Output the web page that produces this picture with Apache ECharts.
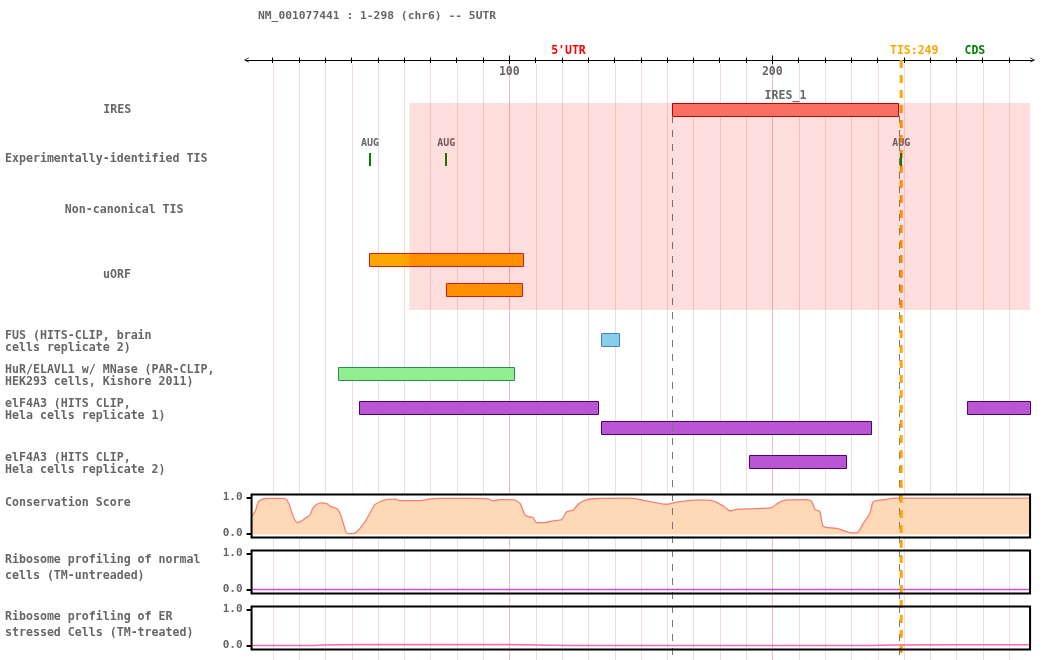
<!DOCTYPE html>
<html><head><meta charset="utf-8">
<script src="https://cdn.jsdelivr.net/npm/echarts@6/dist/echarts.min.js"></script>
<style>html,body{margin:0;padding:0;background:#fff}#c{width:1050px;height:660px}</style>
</head><body><div id="c"></div>
<script>
// ---------------- DATA ----------------
const titleText = 'NM_001077441 : 1-298 (chr6) -- 5UTR';
const minorTicks = [10,20,30,40,50,60,70,80,90,100,110,120,130,140,150,160,170,180,190,200,210,220,230,240,250,260,270,280,290];
const majorTicks = [100, 200];
const panelTicks = [0, 1];
const iresRegion = [62, 298];
const iresElements = [[162, 248]];
const iresNames = ['IRES_1'];
const augSites = [47, 76, 249];
const augText = 'AUG';
const tisSite = 249;
const headerTexts = ["5'UTR", 'TIS:' + tisSite, 'CDS'];
const uorfs = [[46.5, 105], [76, 105]];
const fusPeaks = [[135, 142]];
const hurPeaks = [[35, 102]];
const eif4a3Rep1 = [[43, 134], [135, 237.5], [274, 298]];
const eif4a3Rep2 = [[191, 228]];
const conservation = [[2,0.48],[3.3,0.6],[4.6,0.88],[5.8,0.94],[7.7,0.97],[14,0.97],[15.4,0.93],[16.6,0.74],[17.9,0.46],[19.4,0.3],[21.1,0.35],[22.3,0.42],[24.2,0.51],[25.2,0.69],[26.8,0.81],[28.7,0.85],[30.6,0.83],[31.8,0.76],[34.4,0.69],[35.6,0.56],[36.9,0.28],[38.4,0.0],[40.7,0.0],[42.6,0.09],[45.1,0.32],[47,0.56],[48.9,0.8],[50.8,0.88],[53.4,0.94],[56.5,0.95],[58.4,0.91],[66,0.91],[68.6,0.94],[73.6,0.97],[86.3,0.97],[92,0.96],[93.9,0.91],[96.5,0.94],[101.5,0.94],[104.1,0.83],[106,0.51],[107.9,0.46],[109.1,0.44],[110.4,0.3],[112.9,0.3],[116.7,0.35],[119.9,0.39],[121.8,0.6],[124.3,0.65],[126.2,0.81],[129.4,0.94],[134.5,0.97],[146,0.98],[153.5,0.88],[159.8,0.81],[163.6,0.87],[172.5,0.93],[177.6,0.9],[181.4,0.76],[183.9,0.63],[186.5,0.67],[194.1,0.69],[199.8,0.72],[202.3,0.85],[205.5,0.93],[213.1,0.94],[215,0.88],[216.2,0.67],[218.1,0.6],[219.4,0.2],[224.5,0.14],[230.2,0.02],[232.1,0.02],[234.6,0.28],[237.1,0.56],[238.4,0.88],[242.2,0.93],[247.3,0.98],[249.8,0.98],[298,0.98]];
const riboNormal = [[2,0],[298,0]];
const riboTreated = [[2,0],[20,0],[33,0.02],[60,0.03],[100,0.03],[115,0.01],[140,0],[235,0],[245,0.015],[298,0.02]];
const trackLabels = [
  ['IRES'],
  ['Experimentally-identified TIS'],
  ['Non-canonical TIS'],
  ['uORF'],
  ['FUS (HITS-CLIP, brain', 'cells replicate 2)'],
  ['HuR/ELAVL1 w/ MNase (PAR-CLIP,', 'HEK293 cells, Kishore 2011)'],
  ['elF4A3 (HITS CLIP,', 'Hela cells replicate 1)'],
  ['elF4A3 (HITS CLIP,', 'Hela cells replicate 2)'],
  ['Conservation Score'],
  ['Ribosome profiling of normal', 'cells (TM-untreaded)'],
  ['Ribosome profiling of ER', 'stressed Cells (TM-treated)']
];

// ---------------- LAYOUT / STYLE ----------------
const FONT = '"DejaVu Sans Mono", "Liberation Mono", monospace';
const fnt = (s, w) => (w || 'bold') + ' ' + s + 'px ' + FONT;
const GRAY = '#666';
const AX = {left: 246.3, width: 786.4, top: 60, min: 0, max: 299};
const PANEL = {min: 2, max: 298, ymin: -0.11, ymax: 1.08, h: 43, tops: [494.5, 550.5, 606.5]};
const BAR_H = 13;
const L = {
  iresY: 103, iresLabelY: 95.5, augLabelY: 143.5, augTickY: 153, augTickH: 13,
  uorfY: 253, uorfStep: 30, fusY: 333, hurY: 367, rep1Y: 401, rep1Step: 20, rep2Y: 455,
  overlayTop: 103, overlayBottom: 310, guideTop: 116, gridLineTop: 64, bottom: 660,
  headerY: 51.5
};
const labelLayout = [
  [117.2, 109.8, 0, 'center'], [5, 158.8, 0, 'left'], [124.2, 209.8, 0, 'center'], [117, 274.5, 0, 'center'],
  [5, 335.5, 12.3, 'left'], [5, 369.5, 12, 'left'], [5, 403.8, 11.8, 'left'], [5, 457.8, 12, 'left'],
  [5, 502.8, 0, 'left'], [5, 559.8, 15.8, 'left'], [5, 616.5, 16.3, 'left']
];
const headerPos = [122.5, null, 277];
const headerColors = ['#ff0000', '#ffa500', '#008000'];

function pack(intervals, gap) {
  const sorted = intervals.slice().sort((a, b) => a[0] - b[0]);
  const ends = [];
  return sorted.map(iv => {
    let lane = ends.findIndex(e => iv[0] - e >= gap);
    if (lane < 0) { lane = ends.length; ends.push(iv[1]); } else ends[lane] = iv[1];
    return [iv[0], iv[1], lane];
  });
}

function barSeries(name, data, y0, step, fill, stroke) {
  return {
    type: 'custom', name, xAxisIndex: 0, yAxisIndex: 0, z: 3, data: pack(data, 2),
    encode: {x: [0, 1]}, silent: true,
    renderItem(params, api) {
      const s = api.coord([api.value(0), 0]), e = api.coord([api.value(1), 0]);
      const y = y0 + api.value(2) * step;
      return {type: 'rect', shape: {x: Math.round(s[0]) + 0.5, y: y + 0.5, width: Math.round(e[0] - s[0]), height: BAR_H},
        style: {fill, stroke, lineWidth: 1}};
    }
  };
}

const chart = echarts.init(document.getElementById('c'), null, {renderer: 'canvas'});

const arrowPath = 'path://M0,10 L5,0 L10,10 L8.4,10 L5,3.2 L1.6,10 Z';
const baseTop = {gridIndex: 0, type: 'value', position: 'top', min: AX.min, max: AX.max, splitLine: {show: false}};
const xAxes = [
  Object.assign({}, baseTop, {
    axisLine: {show: true, onZero: false, lineStyle: {color: '#000', width: 1}, symbol: [arrowPath, arrowPath], symbolSize: [7, 5]},
    axisTick: {show: true, customValues: minorTicks, length: 2.5, lineStyle: {color: '#000'}},
    axisLabel: {show: true, customValues: majorTicks, inside: true, margin: 6, color: GRAY, fontWeight: 'bold', fontSize: 11.5, fontFamily: FONT}}),
  Object.assign({}, baseTop, {axisLine: {show: false, onZero: false}, axisLabel: {show: false},
    axisTick: {show: true, inside: true, customValues: minorTicks, length: 3, lineStyle: {color: '#000'}}}),
  Object.assign({}, baseTop, {axisLine: {show: false, onZero: false}, axisLabel: {show: false},
    axisTick: {show: true, customValues: majorTicks, length: 4.5, lineStyle: {color: '#000'}}}),
  Object.assign({}, baseTop, {axisLine: {show: false, onZero: false}, axisLabel: {show: false},
    axisTick: {show: true, inside: true, customValues: majorTicks, length: 4, lineStyle: {color: '#000'}}})
];
const yAxes = [{gridIndex: 0, type: 'value', min: 0, max: 1, show: false}];
const grids = [{left: AX.left, width: AX.width, top: AX.top, height: L.bottom - AX.top, z: 0}];
PANEL.tops.forEach((top, i) => {
  grids.push({left: AX.left + (PANEL.min - AX.min) * AX.width / (AX.max - AX.min),
    width: (PANEL.max - PANEL.min) * AX.width / (AX.max - AX.min), top, height: PANEL.h,
    show: true, borderWidth: 0, backgroundColor: i === 0 ? '#fff' : 'transparent', z: 1});
  xAxes.push({gridIndex: i + 1, type: 'value', min: PANEL.min, max: PANEL.max, show: false});
  yAxes.push({gridIndex: i + 1, type: 'value', min: PANEL.ymin, max: PANEL.ymax,
    axisLine: {show: false, onZero: false}, splitLine: {show: false},
    axisTick: {show: true, customValues: panelTicks, length: 5, lineStyle: {color: '#000', width: 2}},
    axisLabel: {show: true, customValues: panelTicks, formatter: v => v.toFixed(1), margin: 9,
      color: GRAY, fontWeight: 'bold', fontSize: 11, fontFamily: FONT}});
});

const series = [
  {type: 'custom', xAxisIndex: 0, yAxisIndex: 0, z: 0, silent: true, data: minorTicks.map(v => [v]),
    encode: {x: 0},
    renderItem(params, api) {
      const x = Math.round(api.coord([api.value(0), 0])[0]) + 0.5;
      const major = majorTicks.indexOf(api.value(0)) >= 0;
      return {type: 'line', shape: {x1: x, y1: L.gridLineTop, x2: x, y2: L.bottom},
        style: {stroke: major ? '#f1b9be' : '#f3dadd', lineWidth: 1}};
    }},
  {type: 'custom', xAxisIndex: 0, yAxisIndex: 0, z: 3, silent: true, data: iresElements.map((d, i) => [d[0], d[1], i]),
    encode: {x: [0, 1]},
    renderItem(params, api) {
      const s = api.coord([api.value(0), 0]), e = api.coord([api.value(1), 0]);
      return {type: 'group', children: [
        {type: 'rect', shape: {x: Math.round(s[0]) + 0.5, y: L.iresY + 0.5, width: Math.round(e[0] - s[0]), height: BAR_H},
          style: {fill: '#fa8072', stroke: '#b00000', lineWidth: 1}},
        {type: 'text', style: {text: iresNames[api.value(2)], x: (s[0] + e[0]) / 2, y: L.iresLabelY,
          align: 'center', verticalAlign: 'middle', textAlign: 'center', textVerticalAlign: 'middle', font: fnt(11.6), fill: GRAY}}
      ]};
    }},
  barSeries('uORF', uorfs, L.uorfY, L.uorfStep, '#ffa500', '#cc2222'),
  barSeries('FUS', fusPeaks, L.fusY, 20, '#87ceeb', '#4682b4'),
  barSeries('HuR', hurPeaks, L.hurY, 20, '#90ee90', '#2e8b57'),
  barSeries('eIF4A3 rep1', eif4a3Rep1, L.rep1Y, L.rep1Step, '#ba55d3', '#4b0082'),
  barSeries('eIF4A3 rep2', eif4a3Rep2, L.rep2Y, 20, '#ba55d3', '#4b0082'),
  {type: 'custom', xAxisIndex: 0, yAxisIndex: 0, z: 4, silent: true,
    data: iresElements.reduce((a, d) => a.concat([[d[0]], [d[1]]]), []), encode: {x: 0},
    renderItem(params, api) {
      const x = Math.round(api.coord([api.value(0), 0])[0]) + 0.5;
      return {type: 'line', shape: {x1: x, y1: L.guideTop, x2: x, y2: L.bottom},
        style: {stroke: '#777', lineWidth: 1, lineDash: [7, 7]}};
    }},
  {type: 'custom', xAxisIndex: 0, yAxisIndex: 0, z: 5, silent: true, data: [[tisSite]], encode: {x: 0},
    renderItem(params, api) {
      const x = api.coord([api.value(0), 0])[0];
      return {type: 'line', shape: {x1: x, y1: AX.top, x2: x, y2: L.bottom},
        style: {stroke: '#ffa500', lineWidth: 3, lineDash: [8, 7]}};
    }},
  {type: 'custom', xAxisIndex: 0, yAxisIndex: 0, z: 6, silent: true, data: augSites.map(v => [v]), encode: {x: 0},
    renderItem(params, api) {
      const x = api.coord([api.value(0), 0])[0];
      return {type: 'group', children: [
        {type: 'rect', shape: {x: Math.round(x) - 1, y: L.augTickY, width: 2, height: L.augTickH}, style: {fill: '#008000'}},
        {type: 'text', style: {text: augText, x: x, y: L.augLabelY, align: 'center', verticalAlign: 'middle',
          textAlign: 'center', textVerticalAlign: 'middle', font: fnt(10), fill: GRAY}}
      ]};
    }},
  {type: 'custom', xAxisIndex: 0, yAxisIndex: 0, z: 6, silent: true, data: [[headerPos[0], 0], [tisSite, 1], [headerPos[2], 2]], encode: {x: 0},
    renderItem(params, api) {
      const i = api.value(1);
      let x = api.coord([api.value(0), 0])[0];
      if (i === 1) x += 13;
      return {type: 'text', style: {text: headerTexts[i], x, y: L.headerY, align: 'center', verticalAlign: 'middle',
        textAlign: 'center', textVerticalAlign: 'middle', font: fnt(11.5), fill: headerColors[i]}};
    }},
  {type: 'custom', xAxisIndex: 0, yAxisIndex: 0, z: 10, silent: true, data: [iresRegion], encode: {x: [0, 1]},
    renderItem(params, api) {
      const s = api.coord([api.value(0), 0]), e = api.coord([api.value(1), 0]);
      return {type: 'rect', shape: {x: s[0], y: L.overlayTop, width: e[0] - s[0], height: L.overlayBottom - L.overlayTop},
        style: {fill: 'rgba(255,0,0,0.13)'}};
    }},
  {type: 'line', xAxisIndex: 4, yAxisIndex: 1, z: 2, data: conservation, smooth: 0.25, symbol: 'none', silent: true,
    lineStyle: {color: '#f8806f', width: 1.3}, areaStyle: {color: '#fdd9b7', opacity: 1, origin: -0.03}},
  {type: 'line', xAxisIndex: 5, yAxisIndex: 2, z: 2, data: riboNormal, symbol: 'none', silent: true,
    lineStyle: {color: '#c050e0', width: 1.5}},
  {type: 'line', xAxisIndex: 6, yAxisIndex: 3, z: 2, data: riboTreated, smooth: 0.3, symbol: 'none', silent: true,
    lineStyle: {color: '#ff69b4', width: 1.5}, areaStyle: {color: '#ffb6d0', opacity: 0.8, origin: 0}}
];

const graphics = [{type: 'text', x: 258, y: 16.5, z: 20, style: {text: titleText, font: fnt(11.3), fill: GRAY,
  align: 'left', verticalAlign: 'middle', textAlign: 'left', textVerticalAlign: 'middle'}}];
trackLabels.forEach((lines, i) => {
  const [x, y0, lh, align] = labelLayout[i];
  lines.forEach((t, j) => graphics.push({type: 'text', x, y: y0 + j * lh, z: 20,
    style: {text: t, font: fnt(11.6), fill: GRAY, align, verticalAlign: 'middle', textAlign: align, textVerticalAlign: 'middle'}}));
});
grids.slice(1).forEach(g => graphics.push({type: 'rect', z: 20, silent: true,
  shape: {x: g.left, y: g.top, width: g.width, height: g.height},
  style: {fill: 'none', stroke: '#000', lineWidth: 2}}));

chart.setOption({
  animation: false,
  backgroundColor: '#fff',
  grid: grids, xAxis: xAxes, yAxis: yAxes, series, graphic: graphics
});
</script></body></html>
